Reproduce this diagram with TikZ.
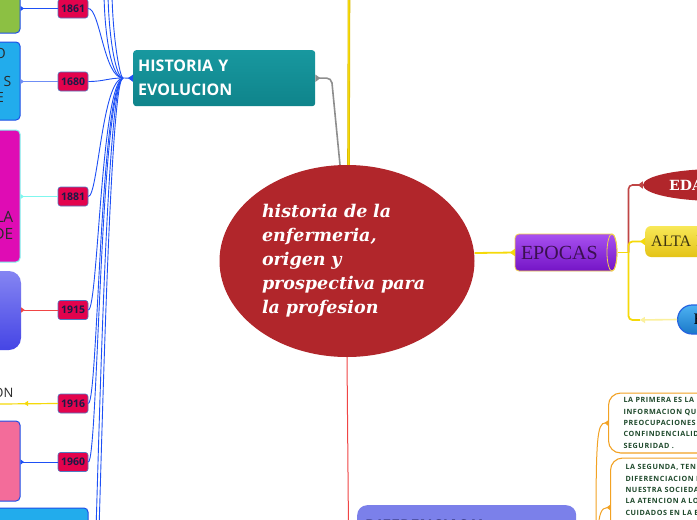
\documentclass[tikz,border=0pt]{standalone}
\usepackage{fontspec}
\setmainfont{Liberation Serif}
\newfontfamily\osans{Open Sans}
\newfontfamily\osanssp{Open Sans}[LetterSpace=8]
\newfontfamily\dvserif{DejaVu Serif}
\usetikzlibrary{arrows.meta,shapes.geometric}
\definecolor{central}{HTML}{B1262B}
\definecolor{tealA}{HTML}{18989F}
\definecolor{tealB}{HTML}{0F848B}
\definecolor{yearred}{HTML}{E3034D}
\definecolor{yearborder}{HTML}{4F7CC4}
\definecolor{yeartext}{HTML}{1B1B47}
\definecolor{fanblue}{HTML}{1E50F5}
\definecolor{boxblue}{HTML}{1D4FE8}
\definecolor{lightfan}{HTML}{6F8EF5}
\definecolor{cyanline}{HTML}{7FF7EE}
\definecolor{redline}{HTML}{F04545}
\definecolor{yline}{HTML}{F5D90A}
\definecolor{ylineD}{HTML}{D9B900}
\definecolor{greenbox}{HTML}{8CC043}
\definecolor{skybox}{HTML}{22ACEC}
\definecolor{magbox}{HTML}{DF0CB4}
\definecolor{pinkbox}{HTML}{F36C9A}
\definecolor{gradA}{HTML}{8585F2}
\definecolor{gradB}{HTML}{4545E5}
\definecolor{graylink}{HTML}{8E8E8E}
\definecolor{refblue}{HTML}{7B80EA}
\definecolor{navy}{HTML}{1A1A50}
\definecolor{purA}{HTML}{A851F0}
\definecolor{purB}{HTML}{7414C6}
\definecolor{epedge}{HTML}{F2D24A}
\definecolor{eptext}{HTML}{3A1050}
\definecolor{altaA}{HTML}{F8E858}
\definecolor{altaB}{HTML}{E4C316}
\definecolor{altatext}{HTML}{3C3412}
\definecolor{edared}{HTML}{C04545}
\definecolor{bajaA}{HTML}{4DB2F2}
\definecolor{bajaB}{HTML}{1A78C8}
\definecolor{bajaedge}{HTML}{2563E0}
\definecolor{orangeb}{HTML}{F2A224}
\definecolor{ogreen}{HTML}{1F4A2C}
\definecolor{fragtext}{HTML}{2A2A2A}
\begin{document}
\begin{tikzpicture}[x=1pt,y=-1pt,
  flare/.style={-{Triangle[reversed,length=5pt,width=7pt]}},
  smallflare/.style={-{Triangle[reversed,length=3.5pt,width=5pt]}},
  year/.style={draw=yearborder, line width=0.6pt, fill=yearred, rounded corners=2.5pt,
    minimum width=30pt, minimum height=19pt, inner sep=0pt, text=yeartext,
    font=\osans\bfseries\fontsize{10.5}{10.5}\selectfont},
  leftbox/.style={draw=boxblue, line width=1pt, rounded corners=4pt, inner sep=0pt},
  fan/.style={draw=fanblue, line width=0.9pt},
  frag/.style={anchor=base east, inner sep=0pt, text=fragtext, font=\osans\fontsize{14}{14}\selectfont},
  obox/.style={draw=orangeb, line width=1.1pt, rounded corners=12pt, anchor=north west,
    align=left, text width=130pt, inner xsep=15pt, inner ysep=4.5pt, text=ogreen,
    font=\osanssp\bfseries\fontsize{7.2}{11.4}\selectfont},
  orangec/.style={draw=orangeb, line width=1pt},
  yellowc/.style={draw=yline, line width=1.8pt},
  pill/.style={anchor=west, text width=150pt, align=left, font=\fontsize{16}{16}\selectfont}]
\useasboundingbox (0,0) rectangle (697,520);
\clip (0,0) rectangle (697,520);
\fill[white] (0,0) rectangle (697,520);

% ---------- left column boxes ----------
\node[leftbox, fill=greenbox, minimum width=40pt, minimum height=53pt] (g) at (0,6.5) {};
\node[leftbox, fill=skybox, minimum width=60pt, minimum height=78pt] (sky) at (-10,81) {};
\node[leftbox, draw=cyanline, fill=magbox, minimum width=60pt, minimum height=132pt] (mag) at (-10,196) {};
\node[rounded corners=12pt, top color=gradA, bottom color=gradB, minimum width=61pt, minimum height=79pt, inner sep=0pt] (grad) at (-9.5,310.5) {};
\node[leftbox, fill=pinkbox, minimum width=60pt, minimum height=80pt] (pink) at (-10,461) {};
\node[leftbox, fill=skybox, minimum width=128pt, minimum height=32pt] (bar) at (24,524) {};
\node[frag] (fO) at (6,58) {O};
\node[frag] (fS) at (11.5,86) {S};
\node[frag] (fE) at (4,102) {E};
\node[frag, font=\osans\fontsize{15.5}{15.5}\selectfont] (fLA) at (13.5,222) {LA};
\node[frag, font=\osans\fontsize{15.5}{15.5}\selectfont] (fDE) at (13.5,239) {DE};
\node[frag, font=\osans\fontsize{13}{13}\selectfont] (fON) at (13.5,397) {ON};
\coordinate (onend) at (0,404);

% ---------- year labels ----------
\node[year] (y1861) at (73,8.5) {1861};
\node[year] (y1680) at (73,81.5) {1680};
\node[year] (y1881) at (73,196.5) {1881};
\node[year] (y1915) at (73,310) {1915};
\node[year] (y1916) at (73,403.5) {1916};
\node[year] (y1960) at (73,462) {1960};

\draw[fan, smallflare] (y1861.west) -- (y1861.west -| g.east);
\draw[draw=lightfan, line width=1.8pt, smallflare] (y1680.west) -- (y1680.west -| sky.east);
\draw[draw=cyanline, line width=1pt, smallflare] (y1881.west) -- (y1881.west -| mag.east);
\draw[draw=redline, line width=1pt, smallflare] (y1915.west) -- (y1915.west -| grad.east);
\draw[draw=yline, line width=1.2pt] (y1916.west) -- (onend);
\draw[draw=yline, line width=1.2pt, -{Triangle[length=4pt,width=5pt]}] (y1916.west) -- (24,403.5);
\draw[fan, smallflare] (y1960.west) -- (y1960.west -| pink.east);

% ---------- main nodes ----------
\node[ellipse, fill=central, minimum width=255pt, minimum height=192pt, inner sep=0pt,
  text=white, align=left, text width=170pt,
  font=\dvserif\bfseries\itshape\fontsize{17.5}{24}\selectfont] (c) at (347,261)
  {historia de la\\enfermeria,\\origen y\\prospectiva para\\la profesion};

\node[rounded corners=3pt, top color=tealA, bottom color=tealB, minimum height=56pt,
  text width=172pt, inner xsep=5pt, align=left, text=white,
  font=\osans\bfseries\fontsize{16}{24}\selectfont, anchor=north west] (hist) at (133,50)
  {HISTORIA Y\\EVOLUCION};

% ---------- fan of blue connectors ----------
\coordinate (J) at (123,78);
\coordinate (t1) at (104,-5);
\coordinate (t2) at (108,-5);
\coordinate (t3) at (112,-5);
\coordinate (b1) at (96,530);
\coordinate (b2) at (99,530);
\draw[fan, flare] (J) -- (hist.west);
\draw[fan] (y1861.east) .. controls (100,8.5) and (104,78) .. (J);
\draw[fan] (y1680.east) .. controls (104,81.5) and (108,78) .. (J);
\draw[fan] (y1881.east) .. controls (98,196.5) and (102,80) .. (J);
\draw[fan] (y1915.east) .. controls (98,310) and (101,85) .. (J);
\draw[fan] (y1916.east) .. controls (98,403.5) and (100,90) .. (J);
\draw[fan] (y1960.east) .. controls (98,462) and (100,95) .. (J);
\draw[fan] (J) .. controls (112,78) and (105,40) .. (t1);
\draw[fan] (J) .. controls (116,78) and (109,40) .. (t2);
\draw[fan] (J) .. controls (120,78) and (113,40) .. (t3);
\draw[fan] (J) .. controls (108,78) and (100,400) .. (b1);
\draw[fan] (J) .. controls (111,78) and (103,400) .. (b2);

% ---------- connectors of the central node ----------
\coordinate (topend) at (349,-5);
\coordinate (botend) at (348.5,530);
\draw[draw=ylineD, line width=2.6pt] ([xshift=1.5pt]c.north) -- (topend);
\draw[draw=yline, line width=1.5pt] ([xshift=1.5pt]c.north) -- (topend);
\draw[draw=graylink, line width=1.6pt, rounded corners=5pt, flare] ([xshift=-7pt]c.north) -- (331.5,78) -- (hist.east);
\draw[draw=redline, line width=1pt] (c.south) -- (botend);

% ---------- bottom box ----------
\node[fill=refblue, rounded corners=10pt, anchor=north west, minimum width=219pt, minimum height=60pt] (ref) at (357,505) {};
\node[anchor=north west, inner sep=0pt, text=navy, font=\osans\bfseries\fontsize{16}{16}\selectfont] (reft) at (365,519.5) {DIFERENCIAS Y};

% ---------- EPOCAS ----------
\path[top color=purA, bottom color=purB, draw=epedge, line width=0.8pt]
  (519,234) -- (612,234) arc[start angle=-90, end angle=90, x radius=5, y radius=18.5]
  -- (519,271) arc[start angle=90, end angle=180, radius=4]
  -- (515,238) arc[start angle=180, end angle=270, radius=4] -- cycle;
\draw[draw=epedge, line width=0.8pt] (612,252.5) ellipse[x radius=5, y radius=18.5];
\node[minimum height=37pt, inner xsep=6pt, text width=91pt, align=left, text=eptext,
  font=\fontsize{20}{20}\selectfont] (ep) at (566.5,252.5) {EPOCAS};
\draw[yellowc, flare] ([yshift=8pt]c.east) -- (ep.west);

% ---------- right branches ----------
\node[ellipse, fill=central, minimum width=150pt, minimum height=32pt, inner sep=0pt] (eda) at (718,185) {};
\node[anchor=base west, inner sep=0pt, text=white, font=\dvserif\bfseries\fontsize{14}{14}\selectfont] (edat) at (669,190) {EDAD MEDIA};
\node[pill, rounded corners=6pt, top color=altaA, bottom color=altaB, minimum height=31pt,
  inner xsep=6pt, text=altatext] (alta) at (645,241.5) {ALTA EDAD MEDIA};
\node[pill, rounded corners=14.5pt, top color=bajaA, bottom color=bajaB, draw=bajaedge,
  line width=1.2pt, minimum height=29pt, inner xsep=16pt, text=black] (baja) at (677,319.5) {BAJA EDAD MEDIA};

\coordinate (br) at (628.5,252.5);
\coordinate (bj) at (640,320);
\draw[draw=edared, line width=1.6pt, rounded corners=4pt, flare] (br) |- (eda.west);
\draw[yellowc] (ep.east) -- (br);
\draw[yellowc, rounded corners=4pt, flare] (br) |- (alta.west);
\draw[yellowc, rounded corners=4pt] (br) |- (bj);
\draw[draw=yline!40, line width=1.6pt, -{Triangle[length=5pt,width=6pt]}] (baja.west) -- (bj);

% ---------- orange boxes ----------
\node[obox] (o1) at (608,392.5) {LA PRIMERA ES LA\\INFORMACION QUE\\PREOCUPACIONES\\CONFINDENCIALIDAD\\SEGURIDAD .};
\node[obox, inner ysep=6.5pt] (o2) at (610,457.5) {LA SEGUNDA, TENIENDO\\DIFERENCIACION ENTRE\\NUESTRA SOCIEDAD\\LA ATENCION A LOS\\CUIDADOS EN LA EDAD\\VERA EL CAMBIO};
\coordinate (os1) at (596,530);
\coordinate (os2) at (598,530);
\draw[orangec, smallflare] (os1) .. controls (596,440) and (597,422.5) .. (o1.west);
\draw[orangec, smallflare] (os2) .. controls (599,515) and (601,507.5) .. ([yshift=-50pt]o2.north west);
\end{tikzpicture}
\end{document}
